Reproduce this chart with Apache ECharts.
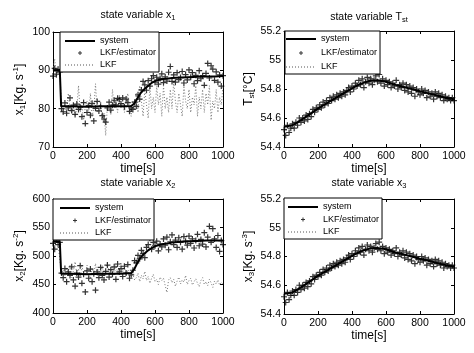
<!DOCTYPE html>
<html>
<head>
<meta charset="utf-8">
<script src="https://cdn.jsdelivr.net/npm/echarts@6/dist/echarts.min.js"></script>
<style>
html, body { margin: 0; padding: 0; background: #fff; }
#chart { width: 474px; height: 353px; }
</style>
</head>
<body>
<div id="chart"></div>
<script>
// sample times of the measured / estimated signals [s]
var time = [
  0, 10, 20, 30, 40, 50, 60, 70, 80, 90,
  100, 110, 120, 130, 140, 150, 160, 170, 180, 190,
  200, 210, 220, 230, 240, 250, 260, 270, 280, 290,
  300, 310, 320, 330, 340, 350, 360, 370, 380, 390,
  400, 410, 420, 430, 440, 450, 460, 470, 480, 490,
  500, 510, 520, 530, 540, 550, 560, 570, 580, 590,
  600, 610, 620, 630, 640, 650, 660, 670, 680, 690,
  700, 710, 720, 730, 740, 750, 760, 770, 780, 790,
  800, 810, 820, 830, 840, 850, 860, 870, 880, 890,
  900, 910, 920, 930, 940, 950, 960, 970, 980, 990,
  1000
];

// system curves (smooth, so fewer points)
var sysTimeX = [0, 40, 48, 100, 200, 300, 400, 460, 470, 480, 490, 500, 510, 520, 530, 540, 550, 560, 570, 580, 590, 600, 620, 640, 660, 680, 700, 750, 800, 850, 900, 950, 1000];
var x1Sys = [90.0, 90.0, 80.6, 80.6, 80.5, 80.6, 80.6, 80.7, 80.9, 81.4, 82.2, 83.0, 83.7, 84.3, 84.8, 85.2, 85.6, 86.0, 86.4, 86.7, 87.0, 87.2, 87.5, 87.7, 87.8, 87.9, 88.0, 88.1, 88.2, 88.3, 88.4, 88.4, 88.5];
var x2Sys = [525, 525, 469, 469, 468, 469, 469, 470, 473, 478, 484, 490, 495, 499, 502, 505, 508, 510, 512, 514, 515.5, 517, 519, 520.5, 521.5, 522.5, 523.5, 525, 526, 526.5, 527, 527, 527];
var sysTimeT = [0, 50, 100, 150, 200, 250, 300, 350, 400, 450, 500, 550, 600, 650, 700, 750, 800, 850, 900, 950, 1000];
var tstSys = [54.54, 54.55, 54.585, 54.625, 54.665, 54.70, 54.735, 54.77, 54.805, 54.835, 54.855, 54.86, 54.85, 54.83, 54.815, 54.80, 54.785, 54.77, 54.755, 54.74, 54.73];

// LKF/estimator points
var x1Est = [
  88.5, 90.5, 89.0, 90.2, 89.6, 80.0, 79.2, 81.5, 78.8, 80.2,
  82.8, 79.5, 80.9, 78.5, 81.2, 79.8, 80.4, 77.9, 81.6, 76.1,
  79.0, 80.8, 78.3, 81.4, 76.8, 80.1, 81.9, 79.4, 80.6, 78.2,
  77.3, 76.5, 80.2, 81.7, 79.6, 80.9, 82.2, 81.0, 82.7, 82.4,
  81.3, 82.8, 80.5, 82.5, 81.6, 79.3, 80.2, 79.8, 81.7, 80.6,
  83.6, 82.5, 84.9, 87.1, 86.2, 84.8, 87.3, 85.9, 87.8, 88.6,
  86.9, 88.2, 86.4, 87.9, 89.1, 86.8, 88.3, 87.2, 89.5, 91.0,
  87.1, 88.8, 86.9, 89.4, 87.6, 88.1, 89.7, 86.7, 88.9, 87.5,
  90.1, 88.2, 89.4, 86.5, 88.7, 87.3, 89.9, 87.8, 88.6, 86.1,
  89.2, 91.8, 88.0, 91.2, 90.3, 87.4, 89.6, 86.9, 88.8, 85.9,
  88.6
];
var x2Est = [
  522, 512, 528, 520, 524, 470, 462, 478, 455, 472,
  466, 481, 458, 447, 470, 463, 483, 452, 468, 437,
  474, 461, 477, 455, 469, 440, 472, 462, 480, 466,
  458, 473, 484, 463, 476, 468, 481, 459, 486, 472,
  478, 464, 482, 470, 485, 461, 467, 475, 492, 488,
  501, 495, 510, 504, 497, 515, 520, 531, 512, 524,
  518, 526, 509, 521, 516, 530, 519, 533, 511, 525,
  537, 520, 528, 515, 532, 524, 512, 534, 526, 519,
  535, 522, 530, 514, 527, 538, 518, 529, 521, 541,
  516, 533, 552, 524, 548, 530, 515, 536, 508, 527,
  520
];
var tstEst = [
  54.52, 54.48, 54.55, 54.50, 54.53, 54.56, 54.53, 54.57, 54.55, 54.60,
  54.57, 54.60, 54.58, 54.62, 54.59, 54.63, 54.61, 54.66, 54.64, 54.67,
  54.66, 54.69, 54.67, 54.71, 54.69, 54.72, 54.70, 54.74, 54.72, 54.75,
  54.73, 54.76, 54.74, 54.77, 54.75, 54.78, 54.76, 54.79, 54.81, 54.78,
  54.82, 54.80, 54.84, 54.82, 54.86, 54.83, 54.87, 54.81, 54.85, 54.88,
  54.84, 54.87, 54.83, 54.86, 54.89, 54.85, 54.90, 54.84, 54.87, 54.82,
  54.86, 54.83, 54.85, 54.81, 54.84, 54.82, 54.86, 54.80, 54.83, 54.81,
  54.84, 54.79, 54.83, 54.78, 54.82, 54.77, 54.81, 54.75, 54.80, 54.78,
  54.76, 54.80, 54.77, 54.79, 54.74, 54.78, 54.75, 54.77, 54.73, 54.78,
  54.75, 54.77, 54.74, 54.76, 54.72, 54.75, 54.73, 54.74, 54.72, 54.74,
  54.72
];

// plain LKF
var x1Lkf = [
  90, 93, 88, 91, 89.5, 80.5, 78.5, 81, 79, 84,
  80, 79, 81, 78, 80, 86, 79, 81, 77, 80.5,
  82, 79, 84, 78, 80, 86.5, 79, 80, 82, 77,
  79, 73, 81, 80, 78.5, 85, 80, 82, 79, 83.5,
  80, 82, 79, 81.5, 84, 80, 78, 82, 80, 84,
  79, 86, 82, 78, 85, 81, 77.5, 86, 80, 83,
  79, 86, 81, 84, 78, 86, 80, 83, 79, 85,
  80, 87, 82, 79, 84, 81, 78, 86, 82, 80,
  85, 79, 83, 81, 86, 78, 83, 80, 85, 79,
  84, 81, 86, 77, 82, 80, 85, 79, 83, 81,
  86
];
var x2Lkf = [
  524, 518, 526, 521, 523, 468, 476, 465, 480, 470,
  485, 462, 474, 490, 468, 478, 463, 482, 471, 466,
  484, 473, 460, 479, 469, 487, 465, 476, 470, 483,
  462, 478, 488, 469, 474, 482, 466, 485, 471, 478,
  489, 472, 480, 467, 476, 470, 464, 468, 458, 462,
  470, 455, 466, 460, 473, 457, 464, 452, 461, 468,
  455, 459, 450, 463, 457, 461, 448, 436, 458, 462,
  453, 459, 447, 456, 463, 451, 458, 454, 466, 450,
  457, 461, 449, 455, 460, 452, 446, 457, 462, 450,
  455, 448, 459, 453, 445, 456, 451, 458, 449, 454,
  451
];
var tstLkf = [
  54.55, 54.51, 54.53, 54.56, 54.52, 54.54, 54.57, 54.55, 54.58, 54.57,
  54.59, 54.58, 54.61, 54.60, 54.63, 54.62, 54.64, 54.65, 54.67, 54.66,
  54.67, 54.66, 54.69, 54.68, 54.71, 54.69, 54.72, 54.71, 54.73, 54.72,
  54.74, 54.74, 54.76, 54.75, 54.77, 54.77, 54.78, 54.78, 54.80, 54.79,
  54.82, 54.81, 54.83, 54.84, 54.83, 54.85, 54.84, 54.86, 54.85, 54.84,
  54.87, 54.86, 54.88, 54.85, 54.87, 54.86, 54.84, 54.87, 54.85, 54.84,
  54.86, 54.84, 54.83, 54.85, 54.82, 54.84, 54.83, 54.81, 54.83, 54.82,
  54.80, 54.82, 54.81, 54.79, 54.81, 54.80, 54.78, 54.80, 54.77, 54.79,
  54.78, 54.76, 54.78, 54.77, 54.75, 54.77, 54.76, 54.74, 54.76, 54.75,
  54.73, 54.75, 54.74, 54.73, 54.74, 54.72, 54.74, 54.73, 54.72, 54.73,
  54.72
];

// x3 looks the same as T_st in the figure
var x3Sys = tstSys;
var x3Est = tstEst;
var x3Lkf = tstLkf;

var xTicks = [0, 200, 400, 600, 800, 1000];

var FONT = 'Liberation Sans, Arial, sans-serif';
var plusSym = 'path://M2.4,0H3.6V2.4H6V3.6H3.6V6H2.4V3.6H0V2.4H2.4Z';
// legend icons drawn in a 30x10 box (corner specks keep the box size)
var box = 'M0,0h0.01v0.01h-0.01z M30,10h-0.01v-0.01h0.01z ';
var plusIcon = 'path://' + box + 'M14.5,3h1v1.5h1.5v1h-1.5v1.5h-1v-1.5h-1.5v-1h1.5z';
var lineIcon = 'path://' + box + 'M0,4h30v2h-30z';
var dotIcon = 'path://' + box +
  'M0,4.5h1v1h-1z M3,4.5h1v1h-1z M6,4.5h1v1h-1z M9,4.5h1v1h-1z M12,4.5h1v1h-1z ' +
  'M15,4.5h1v1h-1z M18,4.5h1v1h-1z M21,4.5h1v1h-1z M24,4.5h1v1h-1z M27,4.5h1v1h-1z';

var richTxt = {
  t: { fontSize: 12, fontFamily: FONT, color: '#000' },
  sb: { fontSize: 8, fontFamily: FONT, color: '#000', padding: [7, 0, 0, 0], verticalAlign: 'bottom' },
  sp: { fontSize: 8, fontFamily: FONT, color: '#000', padding: [0, 0, 7, 0], verticalAlign: 'top' }
};
var richTitle = {
  t: { fontSize: 10.5, fontFamily: FONT, color: '#000' },
  sb: { fontSize: 7.5, fontFamily: FONT, color: '#000', padding: [6, 0, 0, 0], verticalAlign: 'bottom' }
};

var panels = [
  { grid: { left: 53, top: 32, width: 170, height: 115 }, min: 70, max: 100, step: 10,
    sysT: sysTimeX, sys: x1Sys, est: x1Est, lkf: x1Lkf,
    title: '{t|state variable x}{sb|1}', tx: 138, ty: 8,
    yname: '{t|x}{sb|1}{t|[Kg. s}{sp|-1}{t|]}', gap: 26,
    lg: { left: 60, top: 32, itemGap: 2, padding: [4, 3, 2, 5] } },
  { grid: { left: 284, top: 31, width: 170, height: 116 }, min: 54.4, max: 55.2, step: 0.2,
    sysT: sysTimeT, sys: tstSys, est: tstEst, lkf: tstLkf,
    title: '{t|state variable T}{sb|st}', tx: 369, ty: 10,
    yname: '{t|T}{sb|st}{t|[°C]}', gap: 28,
    lg: { left: 285, top: 31, itemGap: 4, padding: [3, 3, 2, 1] } },
  { grid: { left: 53, top: 199, width: 170, height: 114 }, min: 400, max: 600, step: 50,
    sysT: sysTimeX, sys: x2Sys, est: x2Est, lkf: x2Lkf,
    title: '{t|state variable x}{sb|2}', tx: 138, ty: 176,
    yname: '{t|x}{sb|2}{t|[Kg. s}{sp|-2}{t|]}', gap: 26,
    lg: { left: 53, top: 199, itemGap: 2.5, padding: [4, 3, 2, 7] } },
  { grid: { left: 284, top: 199, width: 170, height: 115 }, min: 54.4, max: 55.2, step: 0.2,
    sysT: sysTimeT, sys: x3Sys, est: x3Est, lkf: x3Lkf,
    title: '{t|state variable x}{sb|3}', tx: 369, ty: 176,
    yname: '{t|x}{sb|3}{t|[Kg. s}{sp|-3}{t|]}', gap: 28,
    lg: { left: 284, top: 198, itemGap: 2.5, padding: [4, 3, 2, 4] } }
];

function pairs(xs, ys) {
  var out = [];
  for (var i = 0; i < ys.length; i++) out.push([xs[i], ys[i]]);
  return out;
}

function xAxisOf(i, pos, labels) {
  return {
    type: 'value', gridIndex: i, position: pos,
    min: xTicks[0], max: xTicks[xTicks.length - 1], interval: xTicks[1] - xTicks[0],
    axisLine: { show: true, onZero: false, lineStyle: { color: '#000', width: 1 } },
    axisTick: { show: true, inside: true, length: 3, lineStyle: { color: '#000' } },
    axisLabel: { show: labels, color: '#000', fontSize: 10.5, fontFamily: FONT, margin: 4,
      formatter: function (v) { return String(v); } },
    splitLine: { show: false },
    name: labels ? 'time[s]' : '', nameLocation: 'middle', nameGap: 16,
    nameTextStyle: { color: '#000', fontSize: 12, fontFamily: FONT }
  };
}

function yAxisOf(p, i, pos, labels) {
  return {
    type: 'value', gridIndex: i, position: pos,
    min: p.min, max: p.max, interval: p.step,
    axisLine: { show: true, onZero: false, lineStyle: { color: '#000', width: 1 } },
    axisTick: { show: true, inside: true, length: 3, lineStyle: { color: '#000' } },
    axisLabel: { show: labels, color: '#000', fontSize: 10.5, fontFamily: FONT, margin: 3 },
    splitLine: { show: false },
    name: labels ? p.yname : '', nameLocation: 'middle', nameGap: p.gap, nameRotate: 90,
    nameTextStyle: { rich: richTxt }
  };
}

var grids = [], xAxes = [], yAxes = [], series = [], legends = [], graphics = [];
panels.forEach(function (p, i) {
  grids.push(p.grid);
  xAxes.push(xAxisOf(i, 'bottom', true), xAxisOf(i, 'top', false));
  yAxes.push(yAxisOf(p, i, 'left', true), yAxisOf(p, i, 'right', false));
  series.push({
    type: 'line', name: 'LKF', xAxisIndex: 2 * i, yAxisIndex: 2 * i,
    data: pairs(time, p.lkf), symbol: 'none', z: 2,
    lineStyle: { color: '#777', width: 1, type: [1, 2] }, itemStyle: { color: '#777' }
  });
  series.push({
    type: 'scatter', name: 'LKF/estimator', xAxisIndex: 2 * i, yAxisIndex: 2 * i,
    data: pairs(time, p.est), symbol: plusSym, symbolSize: 6, z: 3,
    itemStyle: { color: '#000' }
  });
  series.push({
    type: 'line', name: 'system', xAxisIndex: 2 * i, yAxisIndex: 2 * i,
    data: pairs(p.sysT, p.sys), symbol: 'none', z: 4,
    lineStyle: { color: '#000', width: 2 }, itemStyle: { color: '#000' }
  });
  legends.push({
    orient: 'vertical', left: p.lg.left, top: p.lg.top,
    itemWidth: 30, itemHeight: 10, itemGap: p.lg.itemGap, padding: p.lg.padding,
    backgroundColor: '#fff', borderColor: '#000', borderWidth: 1, borderRadius: 0,
    selectedMode: false, z: 10,
    textStyle: { fontSize: 9, color: '#000', fontFamily: FONT },
    data: [
      { name: 'system', icon: lineIcon, itemStyle: { color: '#000' } },
      { name: 'LKF/estimator', icon: plusIcon, itemStyle: { color: '#000' } },
      { name: 'LKF', icon: dotIcon, itemStyle: { color: '#555' } }
    ]
  });
  graphics.push({
    type: 'text', x: p.tx, y: p.ty,
    style: { text: p.title, rich: richTitle, align: 'center', textAlign: 'center', verticalAlign: 'top', fill: '#000' }
  });
});

var chart = echarts.init(document.getElementById('chart'), null, { renderer: 'canvas' });
chart.setOption({
  animation: false,
  backgroundColor: '#fff',
  grid: grids,
  xAxis: xAxes,
  yAxis: yAxes,
  legend: legends,
  graphic: graphics,
  series: series
});
</script>
</body>
</html>
